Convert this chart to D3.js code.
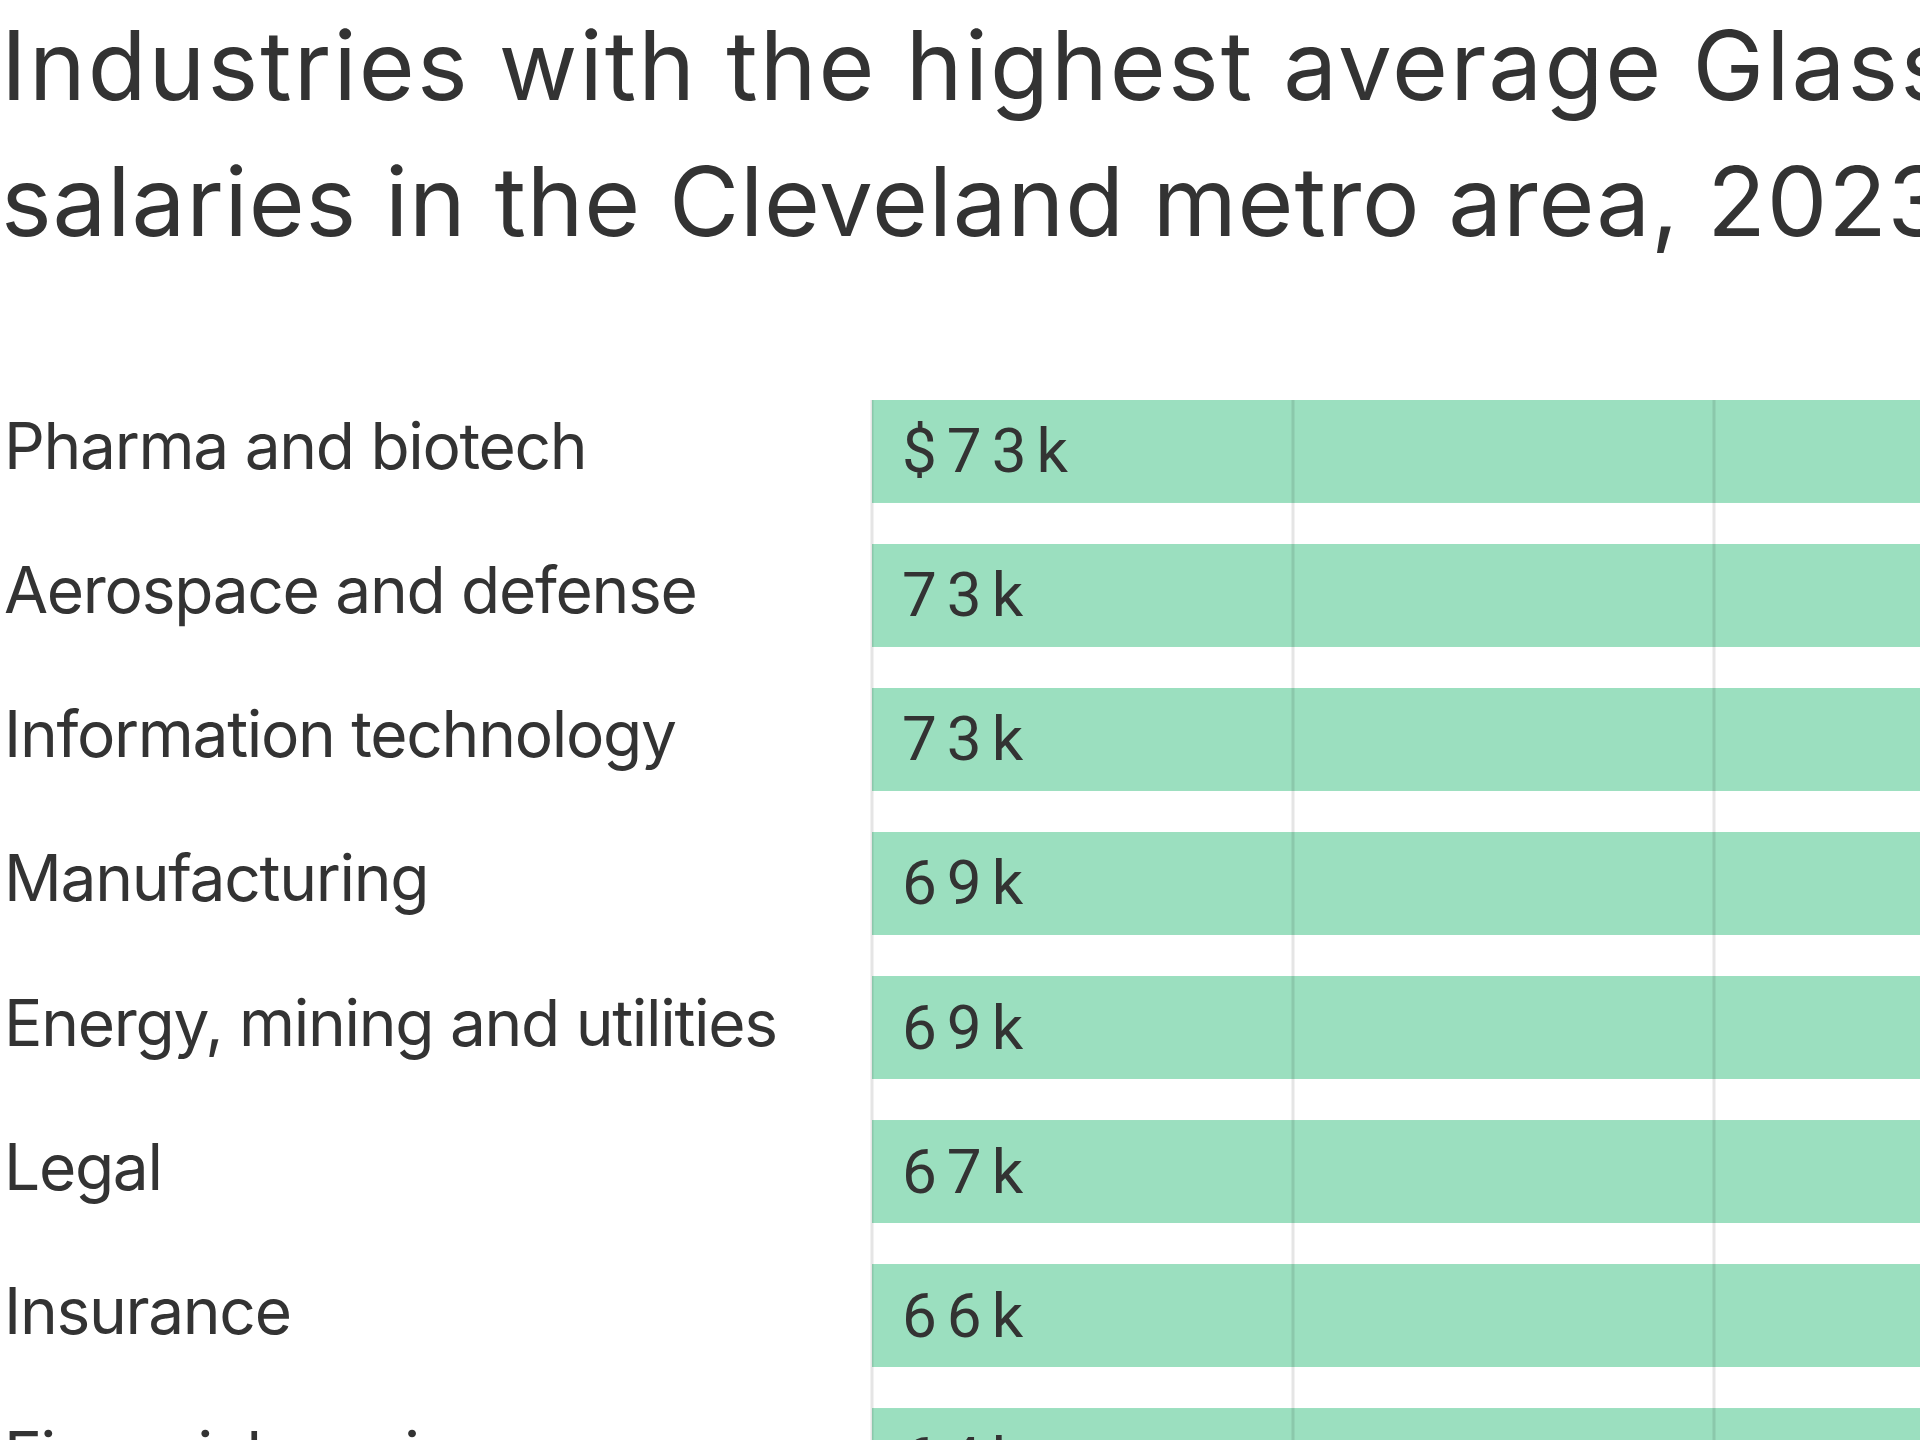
<!DOCTYPE html>
<html>
<head>
<meta charset="utf-8">
<script src="https://cdn.jsdelivr.net/npm/d3@7"></script>
<style>
  html, body { margin: 0; padding: 0; background: #fff; overflow: hidden; }
  svg { display: block; }
</style>
</head>
<body>
<div id="chart"></div>
<script>
const titleLines = ["Industries with the highest average Glassdoor", "salaries in the Cleveland metro area, 2023"];
const industries = ["Pharma and biotech", "Aerospace and defense", "Information technology", "Manufacturing",
  "Energy, mining and utilities", "Legal", "Insurance", "Financial services"];
const salaries = [73000, 73000, 73000, 69000, 69000, 67000, 66000, 64000];
const gridTicks = [0, 20000, 40000, 60000, 80000];

const W = 1920, H = 1440;
const svg = d3.select("#chart").append("svg")
  .attr("width", W).attr("height", H);

// title
svg.append("g").selectAll("text")
  .data(titleLines)
  .enter().append("text")
  .attr("x", 1)
  .attr("y", (d, i) => 100 + i * 136)
  .style("font-family", "Inter, 'Noto Sans', sans-serif")
  .style("font-size", "96px")
  .style("letter-spacing", (d, i) => i === 0 ? "2.1px" : "0.85px")
  .style("fill", "#333")
  .text(d => d);

var x = d3.scaleLinear().domain([0, 80000]).range([872, 872 + 4 * 421]);
var y = d3.scaleBand().domain(industries).range([400, 400 + 7 * 144 + 103]).paddingInner(0.285).paddingOuter(0);

var data = industries.map((d, i) => ({name: d, value: salaries[i]}));

svg.selectAll(".bar")
  .data(data)
  .enter().append("rect")
  .attr("class", "bar")
  .attr("x", x(0))
  .attr("y", d => y(d.name))
  .attr("width", d => x(d.value) - x(0))
  .attr("height", y.bandwidth())
  .style("fill", "#9bdfbf");

// gridlines on top
svg.append("g").selectAll("line")
  .data(gridTicks)
  .enter().append("line")
  .attr("x1", d => x(d)).attr("x2", d => x(d))
  .attr("y1", y.range()[0]).attr("y2", H + 50)
  .style("stroke", "rgba(0,0,0,0.1)")
  .style("stroke-width", 3);

// category labels
svg.append("g").selectAll("text")
  .data(data)
  .enter().append("text")
  .attr("x", 4)
  .attr("y", d => y(d.name) + y.bandwidth() / 2 + 18)
  .style("font-family", "Inter, 'Noto Sans', sans-serif")
  .style("font-size", "64px")
  .style("letter-spacing", "-1.3px")
  .style("fill", "#333")
  .text(d => d.name);

// value labels
var fmt = (d, i) => (i === 0 ? "$" : "") + Math.round(d.value / 1000) + "k";
svg.append("g").selectAll("text")
  .data(data)
  .enter().append("text")
  .attr("x", x(0) + 30)
  .attr("y", d => y(d.name) + y.bandwidth() / 2 + 21)
  .style("font-family", "Roboto, sans-serif")
  .style("font-size", "62px")
  .style("letter-spacing", "10px")
  .style("fill", "#333")
  .text(fmt);
</script>
</body>
</html>
